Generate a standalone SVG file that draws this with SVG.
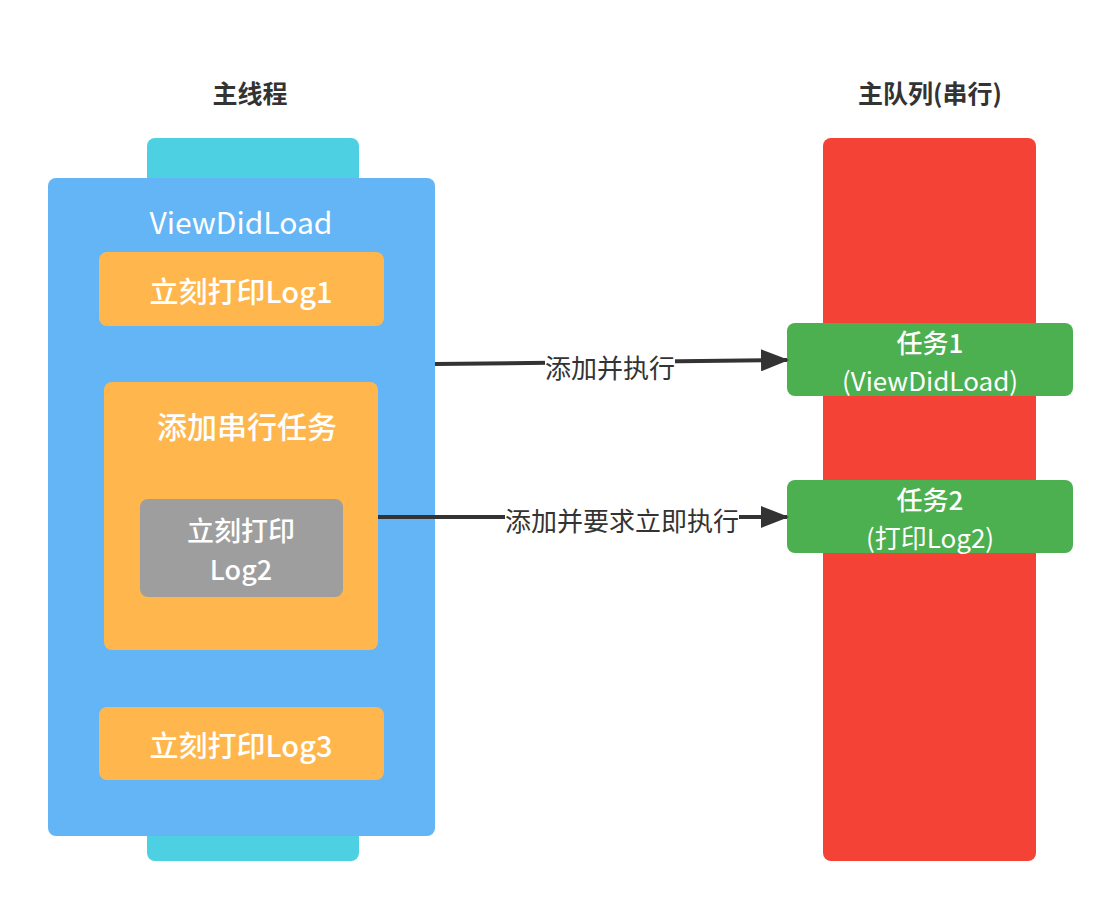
<svg xmlns="http://www.w3.org/2000/svg" width="1120" height="910" viewBox="0 0 1120 910">
<style>
text{font-family:"PingFang SC","Noto Sans CJK SC","Noto Sans",sans-serif;text-anchor:middle;dominant-baseline:central}
.w{fill:#fff;font-size:29px;font-weight:500}
.w2{fill:#fff;font-size:26px;font-weight:500}
.wr{fill:#fff;font-size:30px}
.t{fill:#333;font-size:25px;font-weight:bold}
.l{fill:#333;font-size:26px}
.edge{stroke:#333;stroke-width:4;fill:none}
</style>
<defs>
<marker id="ah" markerUnits="userSpaceOnUse" markerWidth="28" markerHeight="22" refX="26" refY="11" orient="auto">
<path d="M0,0 L28,11 L0,22 Z" fill="#333"/>
</marker>
</defs>
<rect width="1120" height="910" fill="#fff"/>
<text class="t" x="250" y="92">主线程</text>
<text class="t" x="930" y="92">主队列(串行)</text>
<g id="main-thread">
<rect x="147" y="138" width="212" height="723" rx="8" fill="#4DD0E1"/>
<rect x="48" y="178" width="387" height="658" rx="8" fill="#64B5F6"/>
<text class="wr" x="241" y="221">ViewDidLoad</text>
</g>
<g id="log1">
<rect x="99" y="252" width="285" height="74" rx="8" fill="#FFB74D"/>
<text class="w" x="241" y="290">立刻打印Log1</text>
</g>
<g id="serial-task">
<rect x="104" y="382" width="274" height="268" rx="8" fill="#FFB74D"/>
<text class="w" x="247" y="425" style="font-size:30px">添加串行任务</text>
</g>
<g id="log2">
<rect x="140" y="499" width="203" height="98" rx="8" fill="#9E9E9E"/>
<text class="w2" x="241" y="529" style="font-size:27px">立刻打印</text>
<text class="w2" x="241" y="568" style="font-size:27px">Log2</text>
</g>
<g id="log3">
<rect x="99" y="707" width="285" height="73" rx="8" fill="#FFB74D"/>
<text class="w" x="241" y="744">立刻打印Log3</text>
</g>
<g id="main-queue">
<rect x="823" y="138" width="213" height="723" rx="8" fill="#F44336"/>
</g>
<g id="task1">
<rect x="787" y="323" width="286" height="73" rx="8" fill="#4CAF50"/>
<text class="w2" x="930" y="341">任务1</text>
<text class="w2" x="930" y="379" style="font-weight:normal">(ViewDidLoad)</text>
</g>
<g id="task2">
<rect x="787" y="480" width="286" height="73" rx="8" fill="#4CAF50"/>
<text class="w2" x="930" y="498">任务2</text>
<text class="w2" x="930" y="536" style="font-weight:normal">(打印Log2)</text>
</g>
<g id="connectors">
<path class="edge" d="M435,364 L787,360" marker-end="url(#ah)"/>
<rect x="545" y="349" width="130" height="32" fill="#fff"/>
<text class="l" x="610" y="366">添加并执行</text>
<path class="edge" d="M378,517 L787,517" marker-end="url(#ah)"/>
<rect x="505" y="502" width="234" height="32" fill="#fff"/>
<text class="l" x="622" y="519">添加并要求立即执行</text>
</g>
</svg>
